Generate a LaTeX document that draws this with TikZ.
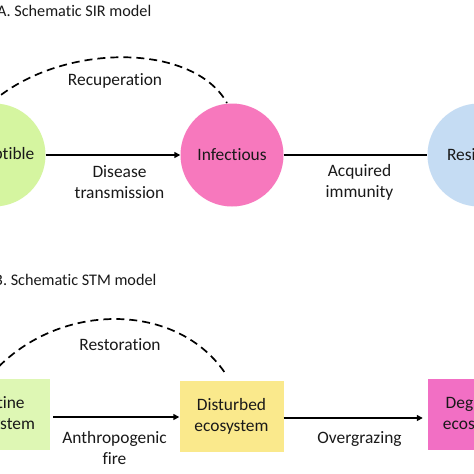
\documentclass[tikz,border=0pt]{standalone}
\usepackage{fontspec}
\setmainfont{Carlito}[Ligatures=NoCommon]
\usetikzlibrary{arrows.meta}
\definecolor{sgreen}{HTML}{D5F5A0}
\definecolor{imag}{HTML}{F778BD}
\definecolor{rblue}{HTML}{C5DCF3}
\definecolor{pgreen}{HTML}{DEF7B4}
\definecolor{dyellow}{HTML}{FAE98C}
\definecolor{gmag}{HTML}{F26FC4}
\begin{document}
\begin{tikzpicture}[x=1pt,y=-1pt,
  every node/.style={font=\fontsize{17.4}{21}\selectfont, text=black!90, inner sep=0pt},
  state/.style={circle, minimum size=103pt, align=center},
  stbox/.style={rectangle, minimum width=104pt, minimum height=71pt, align=center},
  lbl/.style={align=center},
  title/.style={anchor=base west, font=\fontsize{16.2}{20}\selectfont},
  flow/.style={line width=1.6pt, -{Triangle[length=6pt,width=6pt]}},
  plain/.style={line width=1.6pt},
  back/.style={line width=1.7pt, dash pattern=on 8pt off 5pt}]
\useasboundingbox (0,0) rectangle (474,474);
\clip (0,0) rectangle (474,474);
\fill[white] (0,0) rectangle (474,474);

% Panel A
\node[title] (ta) at (-3,16.5) {A. Schematic SIR model};
\node[state, fill=sgreen] (S) at (-6,155) {Susceptible};
\node[state, fill=imag] (I) at (232,155) {Infectious};
\node[state, fill=rblue] (R) at (479,155) {Resistant};
\draw[flow] (S) -- (I);
\draw[plain] (I) -- (R);
\coordinate (ra) at (-9,103);
\coordinate (rb) at (227,103);
\draw[back] (ra) .. controls (60,42) and (193,42) .. (rb);
\node[lbl] (lrec) at (115,81) {Recuperation};
\node[lbl] (ldis) at (119.5,182.5) {Disease\\transmission};
\node[lbl] (lacq) at (359.5,182.5) {Acquired\\immunity};

% Panel B
\node[title] (tb) at (-6,285) {B. Schematic STM model};
\node[stbox, fill=pgreen] (P) at (-2,414.5) {Pristine\\ecosystem};
\node[stbox, fill=dyellow] (D) at (231.5,416) {Disturbed\\ecosystem};
\node[stbox, fill=gmag] (G) at (480,414) {Degraded\\ecosystem};
\draw[flow, shorten <=3pt] (P.east |- 0,417) -- (D.west |- 0,417);
\draw[flow, shorten >=5pt] (D.east |- 0,418) -- (G.west |- 0,418);
\coordinate (sa) at (-10,376);
\coordinate (sb) at (227,376);
\draw[back] (sa) .. controls (55,300) and (179,300) .. (sb);
\node[lbl] (lres) at (120,345) {Restoration};
\node[lbl] (lfire) at (114.5,448.5) {Anthropogenic\\fire};
\node[lbl] (lover) at (359.5,439) {Overgrazing};
\end{tikzpicture}
\end{document}
